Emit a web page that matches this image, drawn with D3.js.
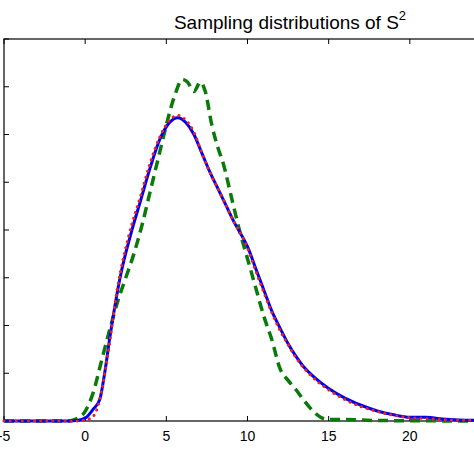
<!DOCTYPE html><html><head><script src="https://cdn.jsdelivr.net/npm/d3@7"></script>
<style>body{margin:0;background:#fff}</style></head><body><svg id="c" width="474" height="474"></svg>
<script>
const xTicks=[-5,0,5,10,15,20,25];
const yTicks=[0,1,2,3,4,5,6,7,8];
const blue=[[-5,0],[-1,0],[-0.5,0.01],[0,0.06],[0.5,0.25],[0.9,0.45],[1.2,1.0],[1.5,1.7],[2.15,3.0],[2.8,3.9],[3.4,4.6],[4,5.3],[4.6,5.9],[5.2,6.25],[5.7,6.35],[6.2,6.25],[6.7,6.0],[7.2,5.6],[7.7,5.2],[8.2,4.85],[8.7,4.5],[9.2,4.15],[9.7,3.85],[10,3.65],[10.5,3.2],[11,2.75],[11.5,2.3],[12,1.95],[12.5,1.62],[13,1.35],[13.5,1.12],[14,0.95],[15,0.68],[16,0.48],[17,0.33],[18,0.21],[19,0.13],[20,0.08],[21,0.08],[22,0.04],[23,0.02],[25,0.01]];
const red=[[-5,0],[-0.5,0],[0,0.02],[0.5,0.1],[1,0.6],[1.4,1.4],[2,2.8],[2.7,3.9],[3.4,4.7],[4,5.4],[4.6,5.95],[5.2,6.3],[5.7,6.4],[6.2,6.3],[6.7,6.05],[7.2,5.6],[7.7,5.2],[8.2,4.85],[8.7,4.5],[9.2,4.15],[9.7,3.85],[10,3.62],[10.5,3.15],[11,2.7],[11.5,2.27],[12,1.9],[12.5,1.6],[13,1.32],[13.5,1.1],[14,0.92],[15,0.65],[16,0.45],[17,0.3],[18,0.2],[19,0.12],[20,0.07],[21,0.05],[22,0.03],[25,0.01]];
const green=[[-5,0],[-1,0],[-0.5,0.05],[0,0.2],[0.5,0.6],[1,1.25],[1.5,1.9],[2,2.5],[2.5,3.0],[3,3.5],[3.5,4.1],[4,4.8],[4.5,5.5],[5,6.2],[5.5,6.8],[6,7.15],[6.3,7.1],[6.7,6.9],[7.1,7.1],[7.4,6.9],[7.8,6.2],[8.2,5.7],[8.5,5.4],[9,4.7],[9.5,4.0],[10,3.4],[10.5,2.8],[11,2.2],[11.5,1.7],[12,1.1],[12.5,0.85],[13,0.65],[13.5,0.42],[14,0.22],[14.5,0.08],[15,0.03],[16,0.03],[18,0.01],[25,0]];
const svg=d3.select("#c");
const x=d3.scaleLinear().domain([-5,25]).range([4,491]);
const y=d3.scaleLinear().domain([0,8]).range([421,39]);
svg.append("rect").attr("x",4).attr("y",39).attr("width",487).attr("height",382).attr("fill","none").attr("stroke","#000").attr("stroke-width",1.2);
const g=svg.append("g");
xTicks.forEach(t=>{g.append("line").attr("x1",x(t)).attr("x2",x(t)).attr("y1",421).attr("y2",416).attr("stroke","#000");
g.append("line").attr("x1",x(t)).attr("x2",x(t)).attr("y1",39).attr("y2",44).attr("stroke","#000");
g.append("text").attr("x",x(t)).attr("y",441).attr("text-anchor","middle").attr("font-family","Liberation Sans, Arial").attr("font-size",14).text(t);});
yTicks.forEach(t=>{g.append("line").attr("x1",4).attr("x2",9).attr("y1",y(t)).attr("y2",y(t)).attr("stroke","#000");});
const line=d3.line().x(d=>x(d[0])).y(d=>y(d[1])).curve(d3.curveMonotoneX);
svg.append("path").attr("d",line(green)).attr("fill","none").attr("stroke","#0a7a0a").attr("stroke-width",3.5).attr("stroke-dasharray","10,6");
svg.append("path").attr("d",line(blue)).attr("fill","none").attr("stroke","#0000ee").attr("stroke-width",3);
svg.append("path").attr("d",line(red)).attr("fill","none").attr("stroke","#e8202a").attr("stroke-width",3).attr("stroke-dasharray","0.1,6").attr("stroke-linecap","round");
const tt=svg.append("text").attr("x",290).attr("y",29).attr("text-anchor","middle").attr("font-family","Liberation Sans, Arial").attr("font-size",19);
tt.append("tspan").text("Sampling distributions of S");
tt.append("tspan").attr("font-size",13).attr("dy",-9).text("2");
</script></body></html>
